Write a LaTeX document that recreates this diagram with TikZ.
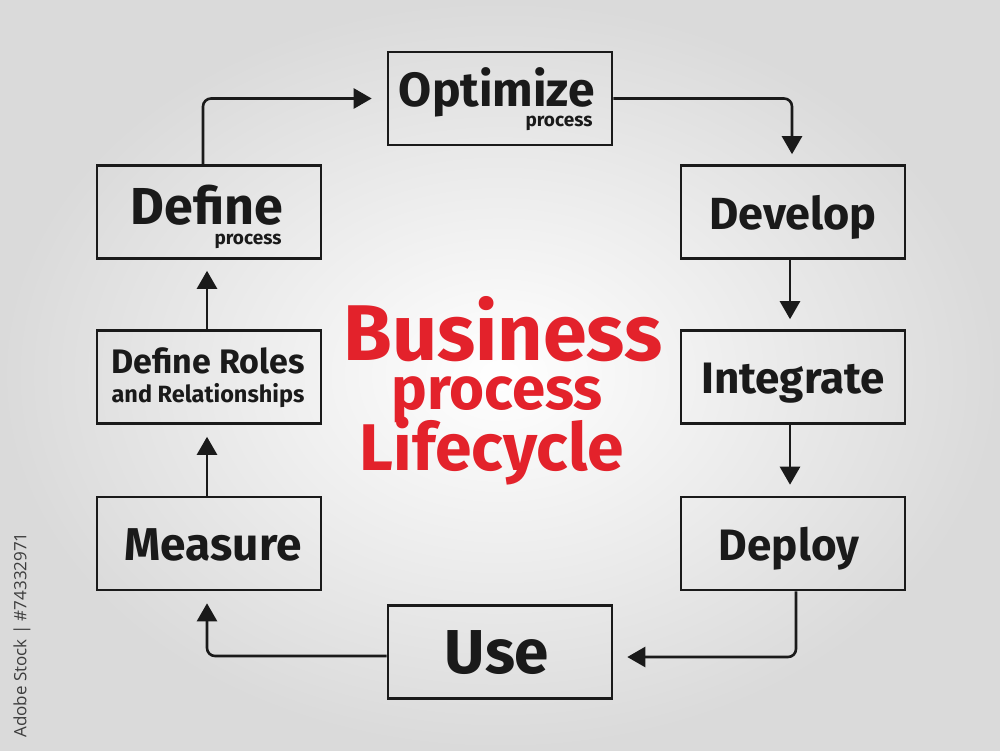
\documentclass[tikz,border=0pt]{standalone}
\usepackage{fontspec}
\setmainfont{Fira Sans}
\newfontfamily\wmfont{Open Sans}
\usetikzlibrary{arrows.meta}
\definecolor{ink}{HTML}{1A1A1A}
\definecolor{redink}{HTML}{E3222B}
\definecolor{bgedge}{HTML}{DADADA}
\tikzset{
  box/.style={draw=ink, line width=2.6pt, minimum width=224pt, minimum height=93pt, inner sep=0pt},
  lbl/.style={text=ink, inner sep=0pt, anchor=base},
  small/.style={text=ink, font=\bfseries\fontsize{19}{19}\selectfont, inner sep=0pt, anchor=base},
  conn/.style={draw=ink, line width=2.6pt, rounded corners=8pt, -{Triangle[length=18pt,width=20pt]}},
  title/.style={text=redink, inner sep=0pt, anchor=base}
}
\begin{document}
\begin{tikzpicture}[x=1pt,y=-1pt]
\shade[inner color=white, outer color=bgedge] (0,0) rectangle (1000,750);
\useasboundingbox (0,0) rectangle (1000,750);

% boxes
\node[box] (opt) at (500,98.5) {};
\node[box] (def) at (209,212) {};
\node[box] (dev) at (793,212) {};
\node[box] (rol) at (209,377) {};
\node[box] (int) at (793,377) {};
\node[box] (mea) at (209,543.5) {};
\node[box] (dep) at (793,543.5) {};
\node[box] (use) at (500,652) {};

% labels
\node[lbl, font=\bfseries\fontsize{48}{48}\selectfont] (optT) at (497,106) {Optimize};
\node[small] (optP) at (559,126) {process};
\node[lbl, font=\bfseries\fontsize{52}{52}\selectfont] (defT) at (207,224) {Define};
\node[small] (defP) at (248,244) {process};
\node[lbl, font=\bfseries\fontsize{45}{45}\selectfont] (devT) at (793,229) {Develop};
\node[lbl, font=\bfseries\fontsize{34}{34}\selectfont] (rolT) at (208,373) {Define Roles};
\node[lbl, font=\bfseries\fontsize{23.5}{23.5}\selectfont] (rolT2) at (208,402) {and Relationships};
\node[lbl, font=\bfseries\fontsize{44}{44}\selectfont] (intT) at (793,393) {Integrate};
\node[lbl, font=\bfseries\fontsize{46}{46}\selectfont] (meaT) at (213,560) {Measure};
\node[lbl, font=\bfseries\fontsize{44}{44}\selectfont] (depT) at (789,560) {Deploy};
\node[lbl, font=\bfseries\fontsize{62}{62}\selectfont] (useT) at (497,673) {Use};

% center title
\node[title, font=\bfseries\fontsize{79}{79}\selectfont] (t1) at (503,360) {Business};
\node[title, font=\bfseries\fontsize{60}{60}\selectfont] (t2) at (497,409) {process};
\node[title, font=\bfseries\fontsize{66}{66}\selectfont] (t3) at (492,470) {Lifecycle};

% connectors
\draw[conn, shorten >=15pt] ([xshift=-6pt]def.north) |- (opt.west);
\draw[conn, shorten >=10pt] (opt.east) -| ([xshift=-1pt]dev.north);
\draw[conn, shorten >=10pt] ([xshift=-3pt]dev.south) -- ([xshift=-3pt]int.north);
\draw[conn, shorten >=11pt] ([xshift=-3pt]int.south) -- ([xshift=-3pt]dep.north);
\draw[conn, shorten >=14pt] ([xshift=3pt]dep.south) |- ([yshift=-5pt]use.east);
\draw[conn, shorten >=12pt] ([yshift=-4pt]use.west) -| ([xshift=-2pt]mea.south);
\draw[conn, shorten >=12pt] ([xshift=-2pt]mea.north) -- ([xshift=-2pt]rol.south);
\draw[conn, shorten >=11pt] ([xshift=-2pt]rol.north) -- ([xshift=-2pt]def.south);

% stock label
\node[rotate=90, text=ink!85, font=\wmfont\fontsize{17}{17}\selectfont, inner sep=0pt] (wm) at (22,635) {Adobe Stock | \#74332971};
\end{tikzpicture}
\end{document}
